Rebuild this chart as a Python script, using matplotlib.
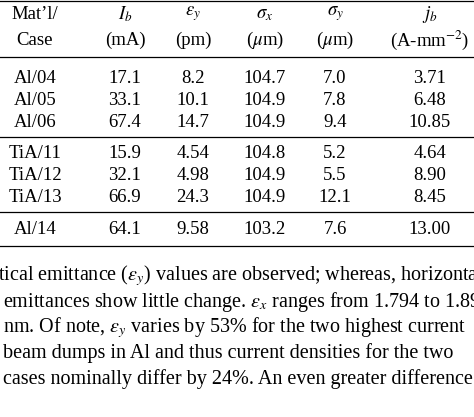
import matplotlib
matplotlib.use("Agg")
import matplotlib.pyplot as plt

plt.rcParams['font.family'] = ['Liberation Serif', 'DejaVu Serif']
plt.rcParams['mathtext.fontset'] = 'stix'

headers1 = ["Mat\u2019l/", r"$I_b$", r"$\epsilon_y$", r"$\sigma_x$", r"$\sigma_y$", r"$j_b$"]
headers2 = ["Case", "(mA)", "(pm)", r"($\mu$m)", r"($\mu$m)", r"(A-mm$^{-2}$)"]
cases = ["Al/04", "Al/05", "Al/06", "TiA/11", "TiA/12", "TiA/13", "Al/14"]
Ib = ["17.1", "33.1", "67.4", "15.9", "32.1", "66.9", "64.1"]
ey = ["8.2", "10.1", "14.7", "4.54", "4.98", "24.3", "9.58"]
sx = ["104.7", "104.9", "104.9", "104.8", "104.9", "104.9", "103.2"]
sy = ["7.0", "7.8", "9.4", "5.2", "5.5", "12.1", "7.6"]
jb = ["3.71", "6.48", "10.85", "4.64", "8.90", "8.45", "13.00"]
paragraph = [
    r"tical emittance ($\epsilon_y$) values are observed; whereas, horizontal",
    r" emittances show little change. $\epsilon_x$ ranges from 1.794 to 1.895",
    r" nm. Of note, $\epsilon_y$ varies by 53% for the two highest current",
    r" beam dumps in Al and thus current densities for the two",
    r" cases nominally differ by 24%. An even greater difference",
]

fig = plt.figure(figsize=(4.74, 4.17), dpi=100)
ax = fig.add_axes([0, 0, 1, 1])
ax.set_xlim(0, 474)
ax.set_ylim(417, 0)
ax.axis('off')

xs = [35, 125, 193, 265, 335, 430]
fs = 13.5
for x, h1, h2 in zip(xs, headers1, headers2):
    ax.text(x, 14, h1, ha='center', va='center', fontsize=fs)
    ax.text(x, 40, h2, ha='center', va='center', fontsize=fs)

ys = [78, 100, 122, 153, 175, 197, 229]
cols = [cases, Ib, ey, sx, sy, jb]
for i, y in enumerate(ys):
    for x, col in zip(xs, cols):
        ax.text(x, y, col[i], ha='center', va='center', fontsize=fs)

for y in [57, 137, 212, 246]:
    ax.plot([0, 474], [y, y], color='black', lw=0.9)
ax.plot([0, 474], [1, 1], color='black', lw=0.9)

for i, line in enumerate(paragraph):
    ax.text(-2, 276 + i * 25.8, line, ha='left', va='center', fontsize=14.5)

fig.savefig("out.png", dpi=100)
